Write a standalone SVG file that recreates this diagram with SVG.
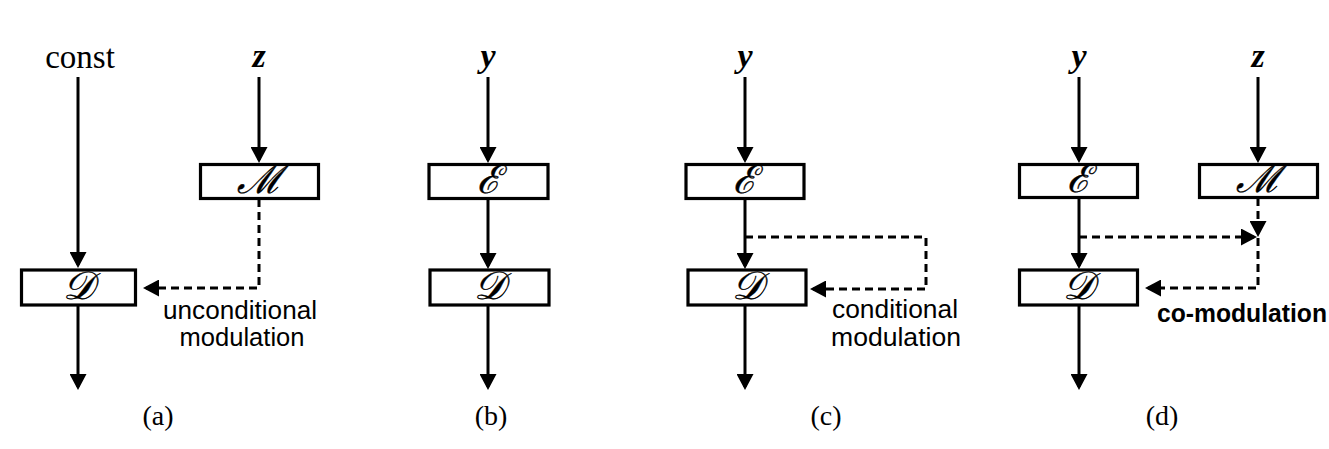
<svg xmlns="http://www.w3.org/2000/svg" width="1329" height="449" viewBox="0 0 1329 449">
<style>
.box{fill:#fff;stroke:#000;stroke-width:3.2}
.ln{fill:none;stroke:#000;stroke-width:3}
.dash{fill:none;stroke:#000;stroke-width:3;stroke-dasharray:8,5}
.sym{font-family:"DejaVu Serif","Liberation Serif",serif;font-style:italic;font-size:39px;text-anchor:middle;fill:#000;stroke:#000;stroke-width:0.4}
.var{font-family:"Liberation Serif",serif;font-style:italic;font-weight:bold;font-size:34px;text-anchor:middle}
.serif{font-family:"Liberation Serif",serif;font-size:33px;text-anchor:middle}
.cap{font-family:"Liberation Serif",serif;font-size:28px;text-anchor:middle}
.lab{font-family:"Liberation Sans",Arial,sans-serif;font-size:25px}
.labb{font-family:"Liberation Sans",Arial,sans-serif;font-size:25px;font-weight:bold}
</style>
<defs>
<marker id="ah" markerUnits="userSpaceOnUse" markerWidth="17" markerHeight="17" refX="13" refY="8.5" orient="auto">
<path d="M0,0 L16,8.5 L0,17 z" fill="#000"/>
</marker>
</defs>
<rect width="1329" height="449" fill="#fff"/>
<g id="connectors">
<line class="ln" x1="78" y1="77" x2="78" y2="265" marker-end="url(#ah)"/>
<line class="ln" x1="259" y1="77" x2="259" y2="160" marker-end="url(#ah)"/>
<line class="ln" x1="78" y1="306" x2="78" y2="387" marker-end="url(#ah)"/>
<polyline class="dash" points="259,199 259,288 146,288" marker-end="url(#ah)"/>
<line class="ln" x1="488" y1="77" x2="488" y2="160" marker-end="url(#ah)"/>
<line class="ln" x1="488" y1="199" x2="488" y2="266" marker-end="url(#ah)"/>
<line class="ln" x1="488" y1="306" x2="488" y2="387" marker-end="url(#ah)"/>
<line class="ln" x1="745" y1="77" x2="745" y2="160" marker-end="url(#ah)"/>
<line class="ln" x1="745" y1="199" x2="745" y2="266" marker-end="url(#ah)"/>
<line class="ln" x1="745" y1="306" x2="745" y2="387" marker-end="url(#ah)"/>
<polyline class="dash" points="745,237 926,237 926,289 813,289" marker-end="url(#ah)"/>
<line class="ln" x1="1079" y1="77" x2="1079" y2="160" marker-end="url(#ah)"/>
<line class="ln" x1="1079" y1="198" x2="1079" y2="266" marker-end="url(#ah)"/>
<line class="ln" x1="1079" y1="306" x2="1079" y2="387" marker-end="url(#ah)"/>
<line class="ln" x1="1258" y1="77" x2="1258" y2="160" marker-end="url(#ah)"/>
<line class="dash" x1="1258" y1="198" x2="1258" y2="234" marker-end="url(#ah)"/>
<line class="dash" x1="1079" y1="237" x2="1254" y2="237" marker-end="url(#ah)"/>
<polyline class="dash" points="1258,238 1258,288 1148,288" marker-end="url(#ah)"/>
</g>
<g id="a-const"><text class="serif" x="80" y="68">const</text></g>
<g id="a-z"><text class="var" x="259" y="67">z</text></g>
<g id="a-M"><rect class="box" x="200.5" y="164.5" width="118" height="34"/><text class="sym" x="259.5" y="193">ℳ</text></g>
<g id="a-D"><rect class="box" x="21.5" y="270" width="114" height="35"/><text class="sym" x="78.5" y="299">𝒟</text></g>
<g id="a-label"><text class="lab" x="240" y="319" text-anchor="middle" textLength="154" lengthAdjust="spacingAndGlyphs">unconditional</text><text class="lab" x="242" y="346" text-anchor="middle" textLength="125" lengthAdjust="spacingAndGlyphs">modulation</text></g>
<g id="b-y"><text class="var" x="488" y="67">y</text></g>
<g id="b-E"><rect class="box" x="429" y="164.5" width="119" height="34"/><text class="sym" x="488.5" y="193">ℰ</text></g>
<g id="b-D"><rect class="box" x="430" y="270" width="119" height="35"/><text class="sym" x="489.5" y="299">𝒟</text></g>
<g id="c-y"><text class="var" x="745" y="67">y</text></g>
<g id="c-E"><rect class="box" x="686" y="164.5" width="118" height="34"/><text class="sym" x="745" y="193">ℰ</text></g>
<g id="c-D"><rect class="box" x="688" y="270" width="118" height="35"/><text class="sym" x="747" y="299">𝒟</text></g>
<g id="c-label"><text class="lab" x="895" y="318" text-anchor="middle" textLength="126" lengthAdjust="spacingAndGlyphs">conditional</text><text class="lab" x="896" y="346" text-anchor="middle" textLength="130" lengthAdjust="spacingAndGlyphs">modulation</text></g>
<g id="d-y"><text class="var" x="1079" y="67">y</text></g>
<g id="d-z"><text class="var" x="1258" y="67">z</text></g>
<g id="d-E"><rect class="box" x="1019.5" y="164.5" width="118" height="33"/><text class="sym" x="1078.5" y="192">ℰ</text></g>
<g id="d-M"><rect class="box" x="1199.5" y="164.5" width="118" height="33"/><text class="sym" x="1258.5" y="192">ℳ</text></g>
<g id="d-D"><rect class="box" x="1019.5" y="270" width="118" height="35"/><text class="sym" x="1078.5" y="299">𝒟</text></g>
<g id="d-label"><text class="labb" x="1242" y="322" text-anchor="middle" textLength="170" lengthAdjust="spacingAndGlyphs">co-modulation</text></g>
<g id="captions">
<text class="cap" x="158" y="425">(a)</text>
<text class="cap" x="491" y="425">(b)</text>
<text class="cap" x="826" y="425">(c)</text>
<text class="cap" x="1162" y="425">(d)</text>
</g>
</svg>
